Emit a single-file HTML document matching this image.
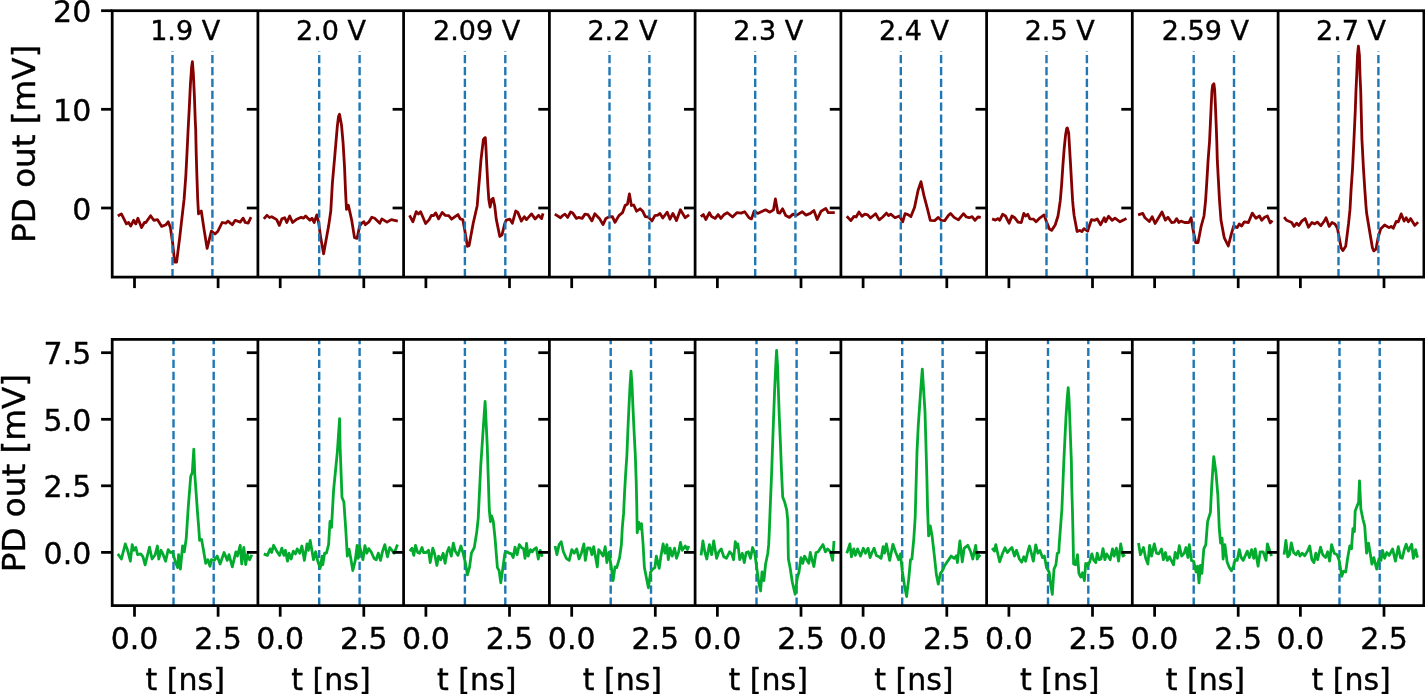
<!DOCTYPE html>
<html lang="en"><head><meta charset="utf-8"><title>PD out vs t</title>
<style>html,body{margin:0;padding:0;background:#fff}body{width:1425px;height:694px;overflow:hidden}svg{display:block}text{font-family:"DejaVu Sans","Liberation Sans",sans-serif;fill:#000}text{stroke:#000;stroke-width:0.4px}.tk{font-size:30.0px}.ti{font-size:27.0px}.yl{font-size:32.6px}.sp{stroke:#000;stroke-width:2.75;fill:none;stroke-linecap:square}.t{stroke:#000;stroke-width:2.75;fill:none}.v{stroke:#1f77b4;stroke-width:2.4;stroke-dasharray:8.2 3.68;fill:none}.r{stroke:#850000;stroke-width:2.8;fill:none;stroke-linejoin:round;stroke-linecap:butt}.g{stroke:#02ab2e;stroke-width:2.8;fill:none;stroke-linejoin:round;stroke-linecap:butt}</style></head><body>
<svg width="1425" height="694" viewBox="0 0 1425 694">
<rect width="1425" height="694" fill="#fff"/>
<g>
<polyline class="r" points="117.8,216 121.4,213.9 126.4,223.9 128.6,222.5 130.7,226.1 133.6,220.3 135.8,223.9 137.9,218.2 141.5,227.6 144.4,222.5 145.9,222.5 150.6,215.7 153.8,220.3 157.4,219.6 161.7,226.4 166,224.7 168.2,221.8 170.4,227.6 172.5,242 174.7,262.1 176.6,262.1 179.7,237.6 184.1,199.2 185.8,176.1 187,153 188.1,130 189.3,107.6 190.4,84.6 191.6,67.3 192.4,61.7 193.3,73.1 194.4,96.1 195.2,119.2 195.7,130 196.2,153 196.9,176.1 197.7,199.2 198.5,213.9 201.3,211 204.2,230.4 207.1,248.4 211.4,231.2 215,234 217.9,231.2 222.2,222.5 225.8,223.2 228,221.1 232.3,224.7 235.2,220.3 240.2,222.1 243.1,218.2 245.3,222.5 248.2,223.2 251,217.2"/><line class="v" x1="172.5" y1="277.1" x2="172.5" y2="50.9"/><line class="v" x1="212.4" y1="277.1" x2="212.4" y2="50.9"/>
<polyline class="r" points="263.8,218.9 266.9,215.3 269.5,217.5 271.7,216.7 276.7,219.6 279.3,225.4 281.8,218.9 284.7,217.8 286.8,222.5 289.7,216 292.6,222.5 296.2,219.6 301.2,217.2 303.4,218.2 305.6,216 309.9,220.3 312,218.2 314.2,222.5 316.8,214.9 318.5,221.8 320.7,237.6 323.6,253.8 328.6,226.1 330.8,211 332.4,182.9 334.9,154.7 337.3,126.5 338.5,116.6 339.5,114.2 341.5,124.9 343.1,143.1 344.5,166.3 345.6,192.8 346.5,209.4 348.4,205.2 351.7,220.3 354.5,237.6 357.1,238.4 359.6,226.1 361.7,223.2 363.9,221.8 365.3,224.7 369,221.8 371.8,217.2 374.7,218.2 379.8,223.2 381.9,218.9 387,222.1 391.3,219.6 397.8,221.1"/><line class="v" x1="319.2" y1="277.1" x2="319.2" y2="50.9"/><line class="v" x1="359.6" y1="277.1" x2="359.6" y2="50.9"/>
<polyline class="r" points="409.5,215.3 412.9,221.8 416.2,211.7 418.4,213.9 420.6,211.7 425.6,223.5 429.2,219.6 431.4,215.3 433.5,215.7 435.7,212.9 438.6,218.9 442.2,212.4 445.1,215.3 448.7,215.7 451.6,219.2 454.4,217.2 458,214.6 460.2,218.9 462.8,219.6 464.8,230.4 467.4,246.3 469.1,245.6 473.2,223.2 477.2,205.7 478.4,190.7 479.7,175.6 480.9,160.6 482.2,149.3 483.4,139.6 484.7,137.9 485.3,137.6 485.9,146.8 486.8,165.6 487.8,184.4 488.8,199.5 490.1,207 491.6,199.5 493.1,198.2 494.7,205.7 496.2,218.9 499.8,236.5 502,234.8 504.9,223.2 506.3,220.1 509.9,219.2 512.4,223.2 515.7,211 517.8,212.4 521.4,221.1 524.3,216.7 526.5,219.6 531.5,213.9 535.1,218.9 538.7,215.3 541.6,218.6 543,213.4"/><line class="v" x1="464.9" y1="277.1" x2="464.9" y2="50.9"/><line class="v" x1="505.3" y1="277.1" x2="505.3" y2="50.9"/>
<polyline class="r" points="554.8,214.1 560.5,217.7 562.7,215.6 564.9,214.1 567.7,217.4 570.6,212 572.8,213.1 576.4,218.4 578.5,217.4 582.1,218.4 585,214.1 587.9,214.6 591.9,220.9 594.8,213.7 599.4,218.4 603,224.6 605.9,218.4 608.8,217 612.4,216.6 615,222.3 618.9,215.6 622.5,212.7 625.1,205.5 627.5,204 629.4,193.9 631.4,205.5 633.7,205 636.6,211.2 640.1,208.8 642.7,211.2 645.3,216.6 648.4,217 652,220.9 654.9,215.6 657.8,215.1 660,213.4 662.8,218 667.2,212.2 670,219.2 672.9,213.4 676.5,220.6 680.4,209.8 685.2,217.7 689.1,214.8"/><line class="v" x1="609.5" y1="277.1" x2="609.5" y2="50.9"/><line class="v" x1="649.4" y1="277.1" x2="649.4" y2="50.9"/>
<polyline class="r" points="700.8,216.6 703.4,214.6 705.8,219.5 709.4,212.7 711.6,216.6 715.2,218.4 718.1,214.6 720.9,218.4 723.8,214.8 727.4,212.7 732.5,217 736.8,212.7 741.1,213.1 744.7,211.7 749,217.7 751.5,218.9 754.1,211.2 757.7,213.4 761.3,211.7 765.6,209.8 769.9,212.2 773.5,209.8 775.4,199 777.9,212.7 779.7,213.1 782.6,208.8 785.8,215.6 789.4,217.4 793,214.1 795.9,215.6 802.3,211.7 806,215.1 810.3,213.4 813.9,210.5 817.2,219.5 821.1,211.2 825.8,208.4 828.3,212.7 834.8,212.7"/><line class="v" x1="755.2" y1="277.1" x2="755.2" y2="50.9"/><line class="v" x1="795.4" y1="277.1" x2="795.4" y2="50.9"/>
<polyline class="r" points="846.8,216.3 850.8,220.6 854,216.3 856.1,217 859,212 861.9,216.3 864.8,214.1 867.7,214.8 870.5,218 875.6,213.7 879.2,219.9 882.8,217 886.4,213.1 888.6,215.6 890.7,214.1 895,217.7 899.4,216 902.7,221.8 905.1,213.7 908,214.6 910.9,216.6 914.5,207.6 918.1,190.3 921,181.7 923.9,195.4 927.5,209.1 930.3,220.3 934.7,220.6 938.3,217.4 941.1,220.3 944.7,220.6 948.3,215.6 950.5,213.4 954.1,217.4 958.4,219.9 963.5,213.7 966.4,217 969.2,217.7 972.1,216.6 975,220.3 977.9,217 980.8,217.4"/><line class="v" x1="900.8" y1="277.1" x2="900.8" y2="50.9"/><line class="v" x1="941.1" y1="277.1" x2="941.1" y2="50.9"/>
<polyline class="r" points="992.1,218.9 995.4,220.1 998.2,218.6 999.7,220.3 1002.6,214.3 1005.5,216 1009.1,223.2 1011.9,216 1014.8,217.8 1018,222.1 1021.3,222.5 1023.8,213.4 1025.6,216 1027.8,214.3 1029.9,218.9 1033.6,219.2 1036.1,221.8 1040,217.8 1044.1,214.9 1046.5,221.8 1049.4,229 1051.6,230.4 1055.2,225 1058,216 1059,209.5 1060.3,200.4 1061.6,184.8 1062.9,165.4 1064.2,148.5 1065.5,135.6 1066.7,128.5 1067.4,128 1068.7,133 1069.6,148.5 1070.6,165.4 1071.7,184.8 1072.6,200.4 1073.4,209.5 1074.2,216 1077.1,231.6 1079.7,230.4 1081.8,231.6 1084,228.7 1087.6,231.2 1089.7,224.7 1091.5,219.6 1094.8,220.3 1097.2,218.9 1100.6,224.7 1104.2,217.8 1105.6,221.8 1108.5,216.3 1112.1,220.3 1115,218.2 1120,221.8 1126.5,218.6"/><line class="v" x1="1046.5" y1="277.1" x2="1046.5" y2="50.9"/><line class="v" x1="1086.9" y1="277.1" x2="1086.9" y2="50.9"/>
<polyline class="r" points="1138.1,214.9 1142.8,213.4 1145,217.8 1149.3,221.5 1152.2,216.7 1155.1,223.5 1158.7,217.5 1162,212 1165.4,220.1 1168,217.2 1171.6,222.5 1174.5,222.1 1176.7,218.6 1178.8,222.5 1181,221.1 1184.6,222.5 1188.9,222.5 1191.1,217.8 1193.2,230.4 1195.7,242.7 1198,242.7 1201.2,226.1 1204,216 1205.6,200.5 1206.9,180.3 1208.1,160.2 1209.5,142 1210.3,125.4 1211.2,105.3 1212,90.1 1212.7,85.1 1213.9,83.8 1214.7,90.1 1215.4,105.3 1216.2,125.4 1216.8,142 1217.3,160.2 1218.4,180.3 1219.5,200.5 1221,220.3 1224.2,237.6 1228.3,246 1231.1,234.8 1233.6,226.1 1237.2,227.6 1239.3,223.9 1241.5,226.1 1244.4,221.8 1248.4,222.5 1252.3,213.1 1255.9,218.2 1259.5,216 1261.7,220.3 1264.6,217.2 1267.4,216 1270.3,222.9 1272.5,220.6"/><line class="v" x1="1193.7" y1="277.1" x2="1193.7" y2="50.9"/><line class="v" x1="1234" y1="277.1" x2="1234" y2="50.9"/>
<polyline class="r" points="1284.1,217.2 1286.6,220.3 1291.7,222.5 1294.1,226.4 1296.7,223.2 1298.9,225.4 1301.8,221.1 1305.1,218.6 1308.5,227.3 1311.9,222.5 1314.7,223.9 1317.2,222.1 1320.9,225.8 1323.8,221.8 1326,217.8 1329.2,226.4 1332,222.5 1334.9,223.9 1337.4,228.3 1339.2,237.6 1341.1,247.7 1342.8,250.6 1345.7,246.3 1348.6,223.2 1350,209.4 1351.1,189.3 1352.6,167.6 1354,138.8 1355.3,110 1356,90.4 1356.7,75.3 1357.5,55.1 1358.4,46.2 1359.4,55.1 1360,75.3 1360.7,90.4 1361.2,110 1361.9,138.8 1363.4,167.6 1364.8,189.3 1365.9,205 1366.6,213.1 1369.5,230.4 1372.4,247.7 1373.8,250.9 1376,249.2 1378.1,237.6 1380.6,229 1384.6,225 1389,227.6 1391.1,226.4 1393.3,228.3 1396.2,221.5 1398.3,221.8 1401.2,213.9 1404.1,221.1 1406.2,217.8 1408.4,221.8 1410.6,218.6 1414.9,225.4 1418.1,222.1"/><line class="v" x1="1338.5" y1="277.1" x2="1338.5" y2="50.9"/><line class="v" x1="1378.4" y1="277.1" x2="1378.4" y2="50.9"/>
<line class="t" x1="101.1" y1="10.7" x2="112.2" y2="10.7"/>
<line class="t" x1="101.1" y1="109.3" x2="112.2" y2="109.3"/>
<line class="t" x1="101.1" y1="208" x2="112.2" y2="208"/>
<line class="t" x1="134.5" y1="277.1" x2="134.5" y2="288.1"/>
<line class="t" x1="218.1" y1="277.1" x2="218.1" y2="288.1"/>
<line class="t" x1="246.8" y1="109.3" x2="257.9" y2="109.3"/>
<line class="t" x1="246.8" y1="208" x2="257.9" y2="208"/>
<line class="t" x1="280.2" y1="277.1" x2="280.2" y2="288.1"/>
<line class="t" x1="363.8" y1="277.1" x2="363.8" y2="288.1"/>
<line class="t" x1="392.6" y1="109.3" x2="403.6" y2="109.3"/>
<line class="t" x1="392.6" y1="208" x2="403.6" y2="208"/>
<line class="t" x1="425.9" y1="277.1" x2="425.9" y2="288.1"/>
<line class="t" x1="509.5" y1="277.1" x2="509.5" y2="288.1"/>
<line class="t" x1="538.3" y1="109.3" x2="549.4" y2="109.3"/>
<line class="t" x1="538.3" y1="208" x2="549.4" y2="208"/>
<line class="t" x1="571.7" y1="277.1" x2="571.7" y2="288.1"/>
<line class="t" x1="655.3" y1="277.1" x2="655.3" y2="288.1"/>
<line class="t" x1="684" y1="109.3" x2="695.1" y2="109.3"/>
<line class="t" x1="684" y1="208" x2="695.1" y2="208"/>
<line class="t" x1="717.4" y1="277.1" x2="717.4" y2="288.1"/>
<line class="t" x1="801" y1="277.1" x2="801" y2="288.1"/>
<line class="t" x1="829.8" y1="109.3" x2="840.9" y2="109.3"/>
<line class="t" x1="829.8" y1="208" x2="840.9" y2="208"/>
<line class="t" x1="863.1" y1="277.1" x2="863.1" y2="288.1"/>
<line class="t" x1="946.8" y1="277.1" x2="946.8" y2="288.1"/>
<line class="t" x1="975.5" y1="109.3" x2="986.6" y2="109.3"/>
<line class="t" x1="975.5" y1="208" x2="986.6" y2="208"/>
<line class="t" x1="1008.9" y1="277.1" x2="1008.9" y2="288.1"/>
<line class="t" x1="1092.5" y1="277.1" x2="1092.5" y2="288.1"/>
<line class="t" x1="1121.3" y1="109.3" x2="1132.3" y2="109.3"/>
<line class="t" x1="1121.3" y1="208" x2="1132.3" y2="208"/>
<line class="t" x1="1154.6" y1="277.1" x2="1154.6" y2="288.1"/>
<line class="t" x1="1238.2" y1="277.1" x2="1238.2" y2="288.1"/>
<line class="t" x1="1267" y1="109.3" x2="1278.1" y2="109.3"/>
<line class="t" x1="1267" y1="208" x2="1278.1" y2="208"/>
<line class="t" x1="1300.4" y1="277.1" x2="1300.4" y2="288.1"/>
<line class="t" x1="1384" y1="277.1" x2="1384" y2="288.1"/>
<rect class="sp" x="112.2" y="10.7" width="1311.7" height="266.4"/>
<line class="t" x1="257.9" y1="10.7" x2="257.9" y2="277.1"/>
<line class="t" x1="403.6" y1="10.7" x2="403.6" y2="277.1"/>
<line class="t" x1="549.4" y1="10.7" x2="549.4" y2="277.1"/>
<line class="t" x1="695.1" y1="10.7" x2="695.1" y2="277.1"/>
<line class="t" x1="840.9" y1="10.7" x2="840.9" y2="277.1"/>
<line class="t" x1="986.6" y1="10.7" x2="986.6" y2="277.1"/>
<line class="t" x1="1132.3" y1="10.7" x2="1132.3" y2="277.1"/>
<line class="t" x1="1278.1" y1="10.7" x2="1278.1" y2="277.1"/>
<text class="tk" x="91.3" y="22.2" text-anchor="end">20</text>
<text class="tk" x="91.3" y="120.9" text-anchor="end">10</text>
<text class="tk" x="91.3" y="219.6" text-anchor="end">0</text>
<text class="yl" transform="translate(34.6,143.8) rotate(-90)" text-anchor="middle">PD out [mV]</text>
<text class="ti" x="185.2" y="39.7" text-anchor="middle">1.9 V</text>
<text class="ti" x="331" y="39.7" text-anchor="middle">2.0 V</text>
<text class="ti" x="476.7" y="39.7" text-anchor="middle">2.09 V</text>
<text class="ti" x="622.4" y="39.7" text-anchor="middle">2.2 V</text>
<text class="ti" x="768.2" y="39.7" text-anchor="middle">2.3 V</text>
<text class="ti" x="913.9" y="39.7" text-anchor="middle">2.4 V</text>
<text class="ti" x="1059.7" y="39.7" text-anchor="middle">2.5 V</text>
<text class="ti" x="1205.4" y="39.7" text-anchor="middle">2.59 V</text>
<text class="ti" x="1351.1" y="39.7" text-anchor="middle">2.7 V</text>
</g>
<g>
<line class="v" x1="173.5" y1="605.6" x2="173.5" y2="339.4"/><line class="v" x1="213.7" y1="605.6" x2="213.7" y2="339.4"/><polyline class="g" points="117.8,553.9 121.4,559 125.3,543.9 127.6,550.3 130.4,561.2 132.2,544.6 133.9,550.3 135.8,547.5 137.6,554.7 140.8,553.9 143,556.8 145.1,564.8 149.5,547.2 152.1,559 155.2,554.7 157.4,546 158.8,559 161,550.3 163.2,554.7 165.6,561.2 168.2,549.6 170.4,552.5 172.5,551.8 175.4,561.9 177.6,567.6 178.6,554.7 180.4,569.1 182.6,546 184.3,551.8 186.2,538.8 188.3,506.7 190.7,476.5 192.3,472.4 193.8,449.2 194.8,474.5 197.4,510.8 198.7,527.3 199.6,540.3 201.6,539.5 203.5,550.3 205.7,563.3 207.8,559.7 210,566.2 211.4,559.7 214.3,560.4 217.2,556.1 220.1,564 224.1,552.5 227.3,560.4 229,554.7 232.3,566.9 235.9,551.8 237.4,556.1 240.2,545.3 241.7,564 243.8,547.5 245.7,564.5 247.4,554.7 249.6,559.7 251.8,554.7"/>
<line class="v" x1="319.2" y1="605.6" x2="319.2" y2="339.4"/><line class="v" x1="359.6" y1="605.6" x2="359.6" y2="339.4"/><polyline class="g" points="263.8,553.9 267.4,555.4 270.2,548.9 271.7,552.5 273.6,545.3 276.7,551.1 279.6,555.4 281.8,548.2 283.9,555.4 285.4,550.3 287.5,561.2 289,553.2 291.1,559 293.3,551.1 295.5,553.9 297.2,548.9 299.8,553.2 301.9,546 304.4,560.4 307,543.9 308.4,550.3 310.2,540.5 313.5,559.7 315.6,551.8 317.8,561.2 320.2,568.4 322.1,556.1 322.8,564.8 324.6,553.2 326.4,553.2 328.6,544.6 330,521.5 331.5,527.3 333.6,490 337.3,452.5 339.6,418.6 340.1,446.8 342,497.4 343.9,502.1 345.9,531.6 347.3,556.1 349.1,549.2 350.9,559 352.8,570.5 355.3,560.4 357.1,545.3 358.1,558.3 359.6,546 361,551.8 362.9,559.7 364.9,545.7 366.8,553.2 368.7,548.6 371.1,551.8 374,558.3 376.2,559.7 378.3,553.2 380.5,560.4 382.6,551.1 384.8,544.6 387.4,556.8 389.8,547.5 392,550.3 394.2,553.2 397.5,544.6"/>
<line class="v" x1="464.9" y1="605.6" x2="464.9" y2="339.4"/><line class="v" x1="505.3" y1="605.6" x2="505.3" y2="339.4"/><polyline class="g" points="409.8,551.1 411.9,548.2 413.8,555.4 415.5,545.3 417.7,552.5 419.6,553.2 422,547.5 423.5,552.5 426.3,552.5 428.5,550.3 430.2,562.6 432.8,548.2 434.5,553.2 436.9,565.5 438.6,556.1 440.7,559.7 443.2,553.2 445.1,563.3 447.2,551.8 449,547.5 451.3,556.1 453.3,543.1 455.2,551.1 458,555.4 460.9,546 463.1,553.2 465.2,561.9 467.4,574.8 469.6,566.9 471.4,553.2 474.3,547.5 476.8,531.6 478.2,518.6 480.7,466.5 483.8,420 485.1,401.3 487.2,444.8 489.3,510 490.5,521.5 491.6,515.8 493.3,521.5 495.1,538.8 497.4,567.6 499.1,570.5 500.8,582.8 502.7,569.1 504.9,553.2 507,551.8 509.2,553.2 511.3,553.9 513.2,557.6 515,547.2 517.1,554.7 519.3,544.6 521.4,547.5 523.6,548.9 525,558.3 526.5,543.4 528.2,556.1 530.5,549.6 532.2,551.8 534.4,548.9 536.3,547.8 538.3,559 540.2,550.3 542.3,556.8"/>
<line class="v" x1="610.7" y1="605.6" x2="610.7" y2="339.4"/><line class="v" x1="651" y1="605.6" x2="651" y2="339.4"/><polyline class="g" points="555.1,546 556.9,554.7 559.1,544.6 561.2,541.7 563.4,551.8 566.3,558.3 569.2,560.4 571.8,549.6 574.2,553.2 576.7,548.9 579,559 581.4,553.2 583.9,543.9 585.3,560.4 587.6,547.8 590.1,548.2 591.9,554.7 593.7,546.7 597.3,566.9 598.7,549.6 600.9,552.5 603,556.1 605.2,546.7 606.9,562.6 608.8,552.5 611,564.8 613.1,580.6 615,566.9 616.7,567.6 619.6,557.6 621.4,544.5 622.3,527.6 623.6,513.4 624.5,493.9 625.6,474.5 626.9,455 627.9,429.8 629.1,403.9 630.1,384.5 631,371.2 632,384.5 632.8,403.9 634,429.8 635.3,455 636.2,480.9 636.8,506.9 637.2,532.8 638.8,522.4 640.1,528.9 641.5,523.7 642.4,535.4 643.1,544.5 644.4,567.6 646.7,579.2 648.4,587.8 650.6,572 652.7,569.1 654.9,567.6 656.3,556.1 659.2,568.4 660.7,557.6 663.1,543.9 665,553.2 666.9,544.6 668.3,559.7 670,548.2 672.2,556.1 674.6,548.2 676.5,558.3 678.7,551.8 680.4,542.4 682.3,550.3 685.2,546 687.3,549.6 688.8,546"/>
<line class="v" x1="756.5" y1="605.6" x2="756.5" y2="339.4"/><line class="v" x1="796.6" y1="605.6" x2="796.6" y2="339.4"/><polyline class="g" points="701.1,555.4 702.9,541 705.1,553.2 706.8,559 709.4,544.6 711.6,554.7 713.7,541 716.6,558.3 718.8,551.8 721.2,548.9 723.8,556.8 726.4,558.3 729.6,551.8 731.7,553.9 733.6,559.7 735.3,541.7 736.8,547.5 737.9,543.9 739.7,559.7 742.3,553.2 744.3,562.6 746.2,552.5 748.3,551.8 750.5,558.3 752.6,547.5 754.8,553.2 756.7,567.6 758.7,582 760.6,591 762,572 763.9,580.6 765.6,564 767.8,553.2 768.7,544.4 769.3,531.5 770.4,502.6 771.6,473.8 772.6,445 773.6,417 774.7,388.2 775.7,366.6 776.6,350.3 777.6,366.6 778.3,388.2 779.3,417 780.5,445 781.6,473.8 782.7,496.9 784.8,502.6 786.7,509.8 787.7,519.9 788,531.5 788.1,544.4 788.4,559 790.1,567.6 792.3,582 795.1,594.3 797.3,577.7 799,572 800.9,557.6 802.8,563.3 804.5,556.1 806.7,559.7 808.8,563.3 810.3,552.5 812,559.7 813.9,566.5 816,552.5 818.2,551.8 820.4,548.2 823,544.6 825.4,551.8 827.6,548.9 830.4,551.8 832.6,560.4 834,541"/>
<line class="v" x1="902.2" y1="605.6" x2="902.2" y2="339.4"/><line class="v" x1="942.6" y1="605.6" x2="942.6" y2="339.4"/><polyline class="g" points="846.8,553.2 849.9,543.9 851.4,556.8 853.7,548.9 855.4,555.4 857.6,548.9 860.5,556.1 863.3,548.2 865.5,553.2 868.1,548.2 870.1,557.6 872,552.5 874.1,548.2 876.3,555.4 879.2,556.8 881.1,558.3 883.1,546.7 884.5,553.2 886.4,543.9 889.7,560.4 892.9,544.3 895.5,551.8 898.6,559.7 900.4,553.9 902.2,570.5 904.4,584.9 906.6,596.5 908.7,579.2 910.5,559.7 911.9,559 913.8,538.8 915.2,517.2 917,451.6 918.3,425 921,386 922.3,369.1 925,411.6 926.9,478.3 927.6,510 928.6,535.9 930.3,525.9 932.1,535.9 934.4,556.1 936.4,574.8 938.3,584.2 940.4,573.4 942.6,570.5 944.7,565.5 947.6,561.2 951.2,556.1 954.1,558.3 956.3,555.8 957.4,562.6 959.9,541 962.3,561.9 964.2,548.2 967.8,545.3 970.7,551.8 972.8,559 975.7,545.3 977.2,559 979,555.4 980.5,556.8"/>
<line class="v" x1="1048" y1="605.6" x2="1048" y2="339.4"/><line class="v" x1="1088.3" y1="605.6" x2="1088.3" y2="339.4"/><polyline class="g" points="992.1,548.2 994.4,551.1 995.8,544.6 997.5,552.5 999.7,561.9 1002.6,553.2 1005,547.8 1007.3,552.5 1009.8,549.6 1011.9,547.5 1014.5,556.1 1016.5,550.3 1019.4,559 1021.7,562.2 1023.8,556.8 1025.6,561.2 1027.8,551.8 1029.5,546 1031.4,553.2 1033.3,561.2 1035.7,544.9 1037.9,553.2 1040,550.6 1042.5,557.6 1044.4,556.1 1046.5,567.6 1049.1,572 1050.8,584.9 1052.3,594.3 1054,569.1 1055.9,564.8 1057.3,553.2 1058.8,552.5 1059.2,544.5 1060.5,527.4 1061.9,509 1062.9,484.5 1063.8,462 1064.8,441.2 1066,416.7 1067.2,398.4 1068.2,387.6 1069,398.4 1069.7,416.7 1070.6,441.2 1071.4,462 1071.7,484.5 1072.4,509 1073,533.5 1073.2,544.5 1073.6,564 1075.6,564.8 1077.5,554.7 1078.9,573.4 1080.8,577 1082.5,572.7 1084.4,580.6 1085.7,563.3 1087.6,566.2 1089.7,561.9 1091.9,553.9 1093.8,560.4 1095.8,562.6 1097.2,553.2 1099.1,559.7 1101,559 1103,548.6 1104.9,559.7 1106.7,553.9 1110.2,559.7 1112.5,548.9 1114.2,556.1 1116.4,548.2 1118.6,561.2 1120.7,543.9 1122.9,556.1 1125,554.7"/>
<line class="v" x1="1193.7" y1="605.6" x2="1193.7" y2="339.4"/><line class="v" x1="1234" y1="605.6" x2="1234" y2="339.4"/><polyline class="g" points="1138.5,543.1 1140.4,554.7 1143.5,547.5 1145.7,558.3 1147.9,564 1149.6,545.3 1151.5,556.1 1154.3,543.9 1156.5,553.2 1158.7,553.9 1161.5,548.9 1163.4,559.7 1165.4,552.5 1167.3,560.4 1169.5,556.8 1173.5,564.8 1175.2,552.5 1177.4,558.3 1179.3,545.7 1181.7,556.1 1184.2,553.2 1186,547.5 1187.9,557.6 1189.3,544.6 1191.4,560.4 1193.7,561.2 1196.1,572 1197.6,566.2 1199,582.8 1200.4,565.5 1201.9,573.4 1203.8,548.9 1205.8,544.6 1207.6,521.5 1210.4,512.4 1211.7,486.2 1213.2,463.7 1213.8,456.7 1216,473 1217.9,495.6 1219.2,527.3 1220.6,543.1 1222.1,538.1 1223.1,559 1224.9,544.6 1227.1,561.9 1229.3,567.6 1231.4,570.8 1233.6,566.2 1235,559.7 1237.2,560.4 1239.3,549.6 1241.2,557.6 1243.2,560.4 1247.3,551.1 1249.4,557.6 1251.6,549.6 1253.8,558.3 1255.2,548.9 1258.1,566.2 1260.2,551.8 1263.1,551.8 1266,560.4 1267.4,543.9 1269.6,550.3 1271.5,556.1"/>
<line class="v" x1="1339.5" y1="605.6" x2="1339.5" y2="339.4"/><line class="v" x1="1379.7" y1="605.6" x2="1379.7" y2="339.4"/><polyline class="g" points="1284.1,554.7 1285.9,540.3 1287.8,556.8 1289.5,554.7 1291.3,542.9 1293.6,552.5 1296,554.7 1298.2,551.1 1299.9,556.1 1302.2,553.2 1304.7,555.8 1307.5,551.1 1309.7,546 1311.9,559.7 1314,562.6 1315.8,553.2 1317.6,559.7 1320.5,547.2 1322.7,554.7 1325.6,557.6 1327.7,551.8 1329.6,561.2 1331.6,544.6 1334.2,553.2 1337.1,554.7 1339.2,560.4 1341.7,576.3 1343.6,571.2 1345.7,572 1347.5,559 1349.8,546 1351.5,548.9 1352.9,528.7 1354.4,531.6 1355.2,510.9 1358.6,502.3 1359.5,480.8 1360.9,509.2 1363,519.5 1364.7,525.9 1366.6,553.2 1368.5,543.1 1370.2,553.2 1371.9,564 1373.8,557.6 1376.7,569.1 1378.9,559 1381,560.4 1382.5,550.3 1384.6,558.3 1386.8,552.5 1389.2,555.4 1392.6,548.9 1395.4,561.2 1398.3,546.7 1400.5,557.6 1402.2,558.3 1404.5,548.9 1406.2,544.3 1408.4,551.1 1411.7,544.3 1413.4,558.3 1415.6,549.6 1417.5,557.6"/>
<line class="t" x1="101.1" y1="352.7" x2="112.2" y2="352.7"/>
<line class="t" x1="101.1" y1="419.3" x2="112.2" y2="419.3"/>
<line class="t" x1="101.1" y1="485.8" x2="112.2" y2="485.8"/>
<line class="t" x1="101.1" y1="552.4" x2="112.2" y2="552.4"/>
<line class="t" x1="134.5" y1="605.6" x2="134.5" y2="616.7"/>
<line class="t" x1="218.1" y1="605.6" x2="218.1" y2="616.7"/>
<line class="t" x1="246.8" y1="352.7" x2="257.9" y2="352.7"/>
<line class="t" x1="246.8" y1="419.3" x2="257.9" y2="419.3"/>
<line class="t" x1="246.8" y1="485.8" x2="257.9" y2="485.8"/>
<line class="t" x1="246.8" y1="552.4" x2="257.9" y2="552.4"/>
<line class="t" x1="280.2" y1="605.6" x2="280.2" y2="616.7"/>
<line class="t" x1="363.8" y1="605.6" x2="363.8" y2="616.7"/>
<line class="t" x1="392.6" y1="352.7" x2="403.6" y2="352.7"/>
<line class="t" x1="392.6" y1="419.3" x2="403.6" y2="419.3"/>
<line class="t" x1="392.6" y1="485.8" x2="403.6" y2="485.8"/>
<line class="t" x1="392.6" y1="552.4" x2="403.6" y2="552.4"/>
<line class="t" x1="425.9" y1="605.6" x2="425.9" y2="616.7"/>
<line class="t" x1="509.5" y1="605.6" x2="509.5" y2="616.7"/>
<line class="t" x1="538.3" y1="352.7" x2="549.4" y2="352.7"/>
<line class="t" x1="538.3" y1="419.3" x2="549.4" y2="419.3"/>
<line class="t" x1="538.3" y1="485.8" x2="549.4" y2="485.8"/>
<line class="t" x1="538.3" y1="552.4" x2="549.4" y2="552.4"/>
<line class="t" x1="571.7" y1="605.6" x2="571.7" y2="616.7"/>
<line class="t" x1="655.3" y1="605.6" x2="655.3" y2="616.7"/>
<line class="t" x1="684" y1="352.7" x2="695.1" y2="352.7"/>
<line class="t" x1="684" y1="419.3" x2="695.1" y2="419.3"/>
<line class="t" x1="684" y1="485.8" x2="695.1" y2="485.8"/>
<line class="t" x1="684" y1="552.4" x2="695.1" y2="552.4"/>
<line class="t" x1="717.4" y1="605.6" x2="717.4" y2="616.7"/>
<line class="t" x1="801" y1="605.6" x2="801" y2="616.7"/>
<line class="t" x1="829.8" y1="352.7" x2="840.9" y2="352.7"/>
<line class="t" x1="829.8" y1="419.3" x2="840.9" y2="419.3"/>
<line class="t" x1="829.8" y1="485.8" x2="840.9" y2="485.8"/>
<line class="t" x1="829.8" y1="552.4" x2="840.9" y2="552.4"/>
<line class="t" x1="863.1" y1="605.6" x2="863.1" y2="616.7"/>
<line class="t" x1="946.8" y1="605.6" x2="946.8" y2="616.7"/>
<line class="t" x1="975.5" y1="352.7" x2="986.6" y2="352.7"/>
<line class="t" x1="975.5" y1="419.3" x2="986.6" y2="419.3"/>
<line class="t" x1="975.5" y1="485.8" x2="986.6" y2="485.8"/>
<line class="t" x1="975.5" y1="552.4" x2="986.6" y2="552.4"/>
<line class="t" x1="1008.9" y1="605.6" x2="1008.9" y2="616.7"/>
<line class="t" x1="1092.5" y1="605.6" x2="1092.5" y2="616.7"/>
<line class="t" x1="1121.3" y1="352.7" x2="1132.3" y2="352.7"/>
<line class="t" x1="1121.3" y1="419.3" x2="1132.3" y2="419.3"/>
<line class="t" x1="1121.3" y1="485.8" x2="1132.3" y2="485.8"/>
<line class="t" x1="1121.3" y1="552.4" x2="1132.3" y2="552.4"/>
<line class="t" x1="1154.6" y1="605.6" x2="1154.6" y2="616.7"/>
<line class="t" x1="1238.2" y1="605.6" x2="1238.2" y2="616.7"/>
<line class="t" x1="1267" y1="352.7" x2="1278.1" y2="352.7"/>
<line class="t" x1="1267" y1="419.3" x2="1278.1" y2="419.3"/>
<line class="t" x1="1267" y1="485.8" x2="1278.1" y2="485.8"/>
<line class="t" x1="1267" y1="552.4" x2="1278.1" y2="552.4"/>
<line class="t" x1="1300.4" y1="605.6" x2="1300.4" y2="616.7"/>
<line class="t" x1="1384" y1="605.6" x2="1384" y2="616.7"/>
<rect class="sp" x="112.2" y="339.4" width="1311.7" height="266.2"/>
<line class="t" x1="257.9" y1="339.4" x2="257.9" y2="605.6"/>
<line class="t" x1="403.6" y1="339.4" x2="403.6" y2="605.6"/>
<line class="t" x1="549.4" y1="339.4" x2="549.4" y2="605.6"/>
<line class="t" x1="695.1" y1="339.4" x2="695.1" y2="605.6"/>
<line class="t" x1="840.9" y1="339.4" x2="840.9" y2="605.6"/>
<line class="t" x1="986.6" y1="339.4" x2="986.6" y2="605.6"/>
<line class="t" x1="1132.3" y1="339.4" x2="1132.3" y2="605.6"/>
<line class="t" x1="1278.1" y1="339.4" x2="1278.1" y2="605.6"/>
<text class="tk" x="91.3" y="363.9" text-anchor="end">7.5</text>
<text class="tk" x="91.3" y="430.5" text-anchor="end">5.0</text>
<text class="tk" x="91.3" y="497" text-anchor="end">2.5</text>
<text class="tk" x="91.3" y="563.6" text-anchor="end">0.0</text>
<text class="yl" transform="translate(25.1,473.1) rotate(-90)" text-anchor="middle">PD out [mV]</text>
<text class="tk" x="134.5" y="649.3" text-anchor="middle">0.0</text>
<text class="tk" x="218.1" y="649.3" text-anchor="middle">2.5</text>
<text class="tk" x="185.2" y="689.7" text-anchor="middle">t [ns]</text>
<text class="tk" x="280.2" y="649.3" text-anchor="middle">0.0</text>
<text class="tk" x="363.8" y="649.3" text-anchor="middle">2.5</text>
<text class="tk" x="331" y="689.7" text-anchor="middle">t [ns]</text>
<text class="tk" x="425.9" y="649.3" text-anchor="middle">0.0</text>
<text class="tk" x="509.5" y="649.3" text-anchor="middle">2.5</text>
<text class="tk" x="476.7" y="689.7" text-anchor="middle">t [ns]</text>
<text class="tk" x="571.7" y="649.3" text-anchor="middle">0.0</text>
<text class="tk" x="655.3" y="649.3" text-anchor="middle">2.5</text>
<text class="tk" x="622.4" y="689.7" text-anchor="middle">t [ns]</text>
<text class="tk" x="717.4" y="649.3" text-anchor="middle">0.0</text>
<text class="tk" x="801" y="649.3" text-anchor="middle">2.5</text>
<text class="tk" x="768.2" y="689.7" text-anchor="middle">t [ns]</text>
<text class="tk" x="863.1" y="649.3" text-anchor="middle">0.0</text>
<text class="tk" x="946.8" y="649.3" text-anchor="middle">2.5</text>
<text class="tk" x="913.9" y="689.7" text-anchor="middle">t [ns]</text>
<text class="tk" x="1008.9" y="649.3" text-anchor="middle">0.0</text>
<text class="tk" x="1092.5" y="649.3" text-anchor="middle">2.5</text>
<text class="tk" x="1059.7" y="689.7" text-anchor="middle">t [ns]</text>
<text class="tk" x="1154.6" y="649.3" text-anchor="middle">0.0</text>
<text class="tk" x="1238.2" y="649.3" text-anchor="middle">2.5</text>
<text class="tk" x="1205.4" y="689.7" text-anchor="middle">t [ns]</text>
<text class="tk" x="1300.4" y="649.3" text-anchor="middle">0.0</text>
<text class="tk" x="1384" y="649.3" text-anchor="middle">2.5</text>
<text class="tk" x="1351.1" y="689.7" text-anchor="middle">t [ns]</text>
</g>
</svg></body></html>
